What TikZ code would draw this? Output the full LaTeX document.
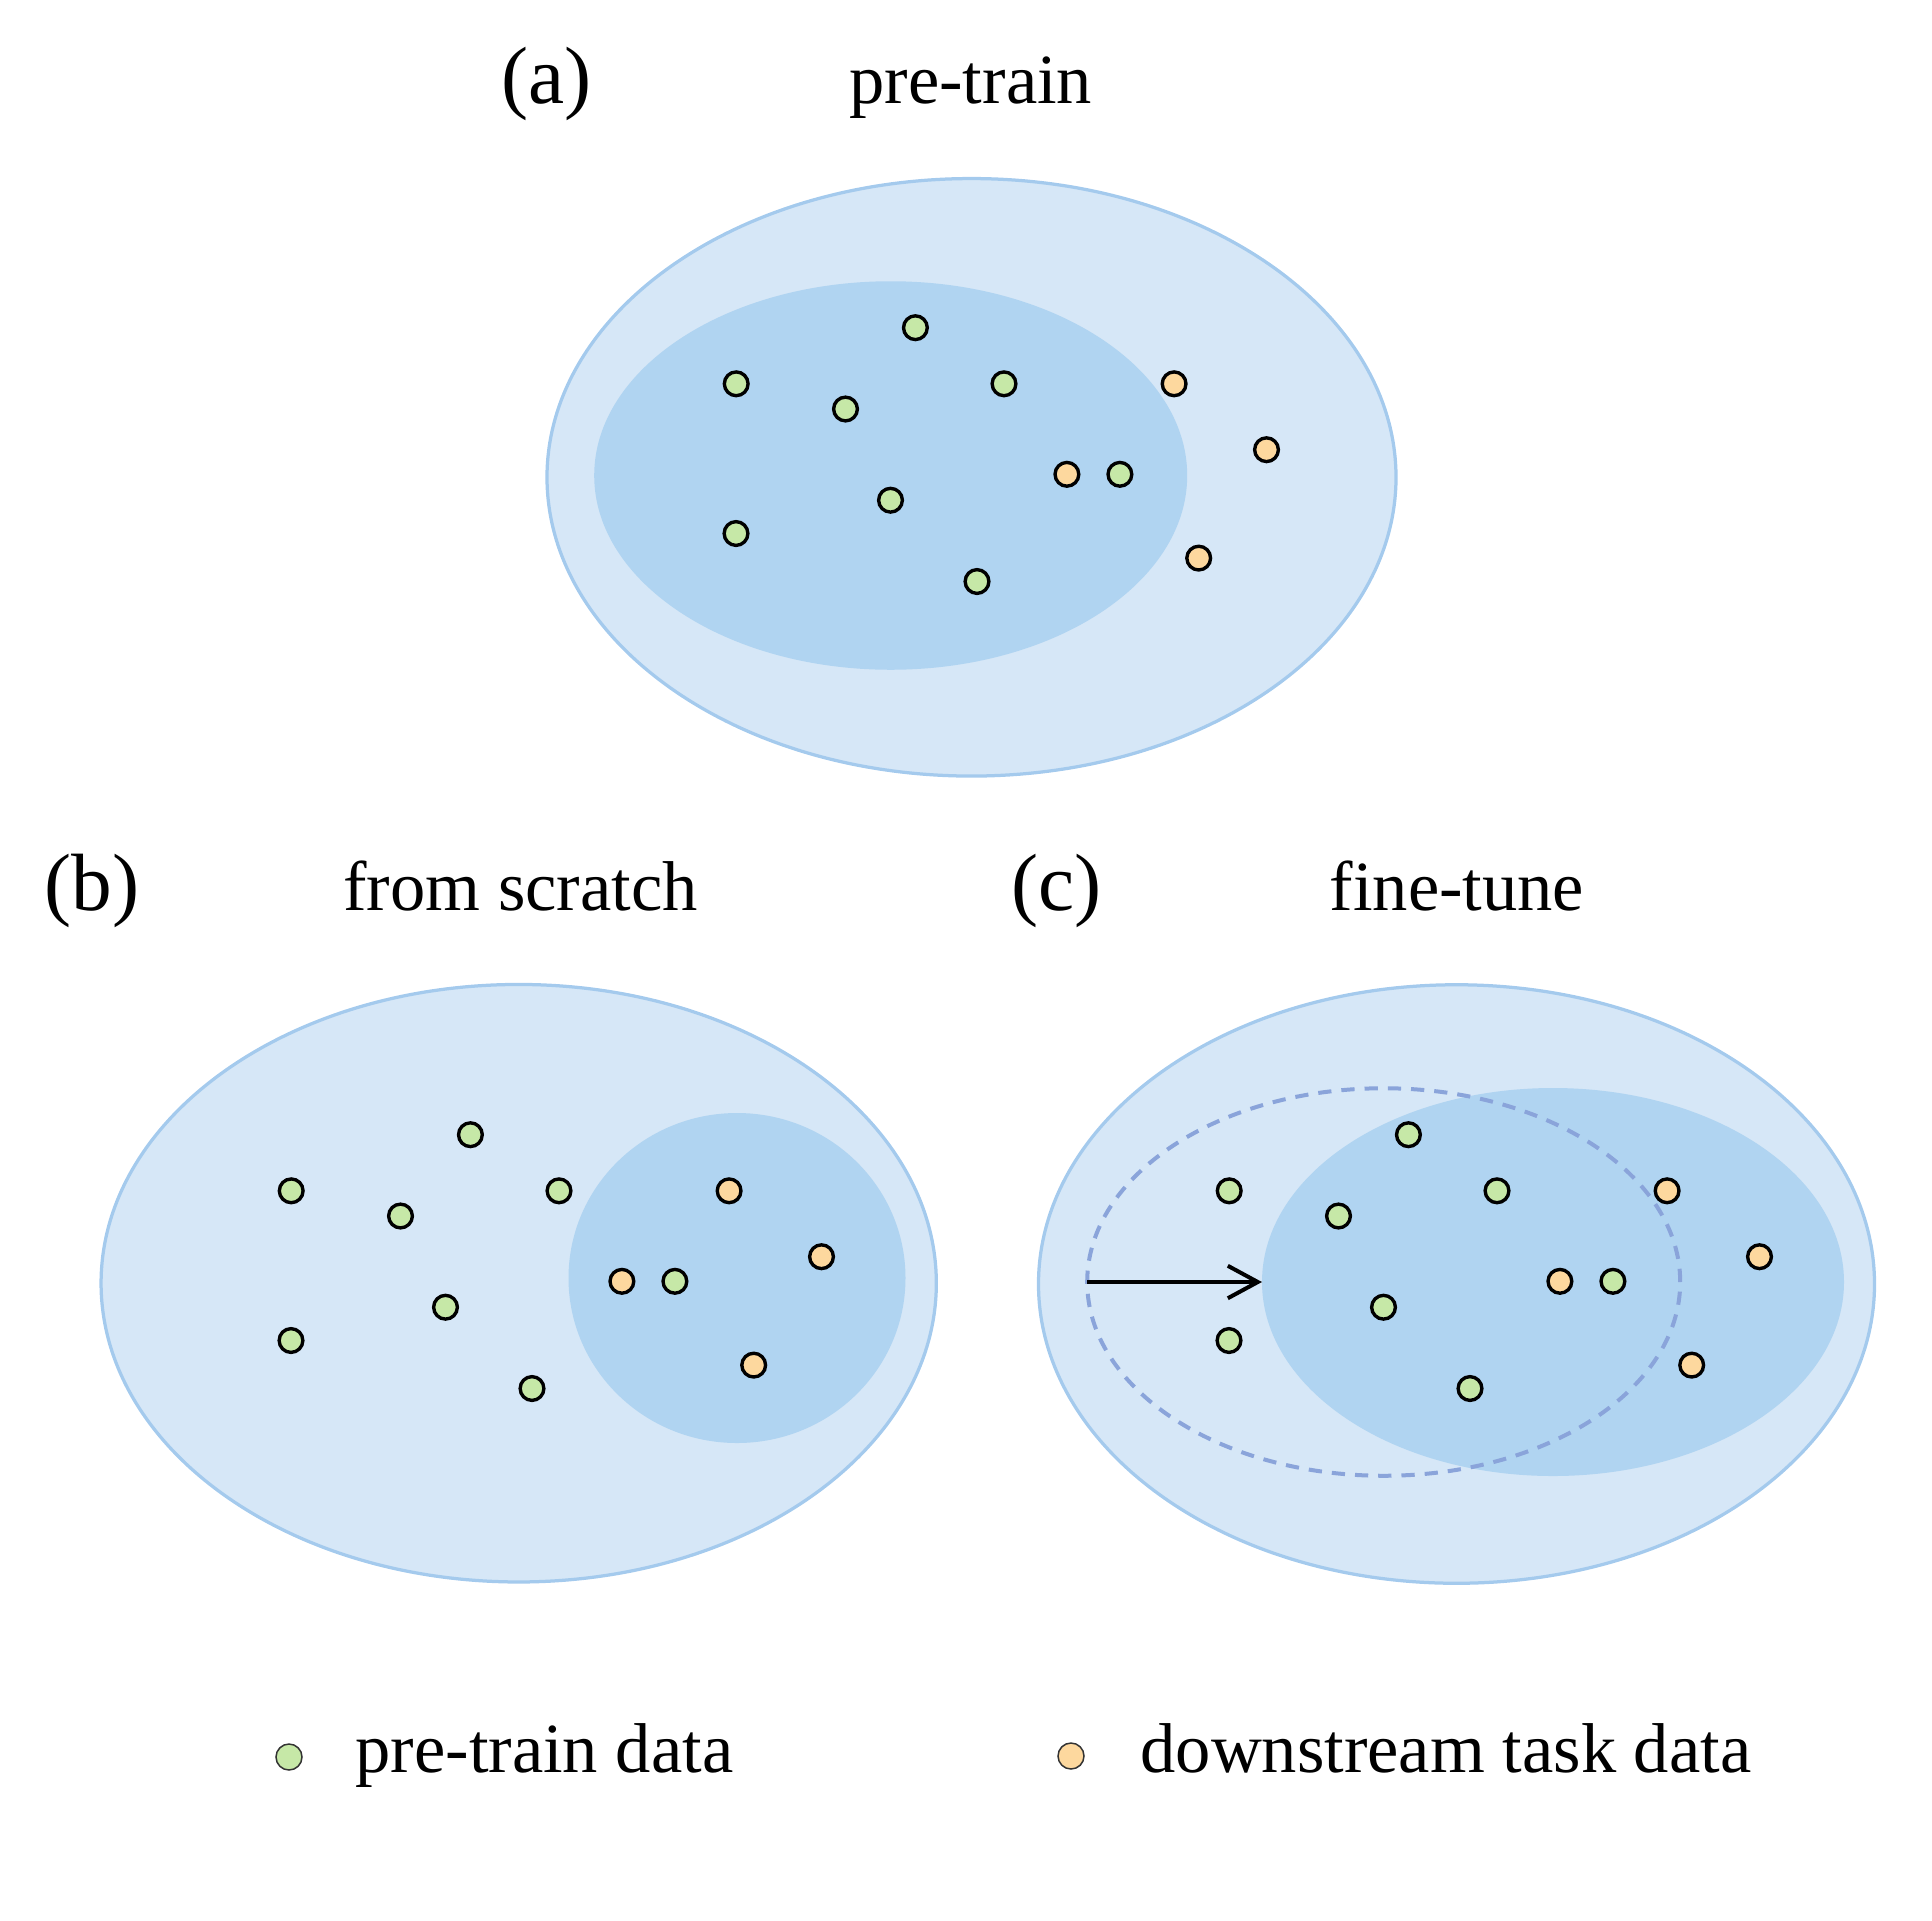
\documentclass[tikz,border=0pt]{standalone}
\usepackage{fontspec}
\setmainfont{Liberation Serif}
\usetikzlibrary{shapes.geometric,arrows.meta}
\definecolor{outerfill}{RGB}{214,231,247}
\definecolor{outerline}{RGB}{164,202,237}
\definecolor{innerfill}{RGB}{176,212,241}
\definecolor{dashcol}{RGB}{138,164,218}
\definecolor{greenfill}{RGB}{198,232,167}
\definecolor{orangefill}{RGB}{253,216,158}
\tikzset{
  region/.style={ellipse, draw=outerline, fill=outerfill, line width=1.3pt, inner sep=0pt, outer sep=0pt},
  core/.style={ellipse, fill=innerfill, draw=none, inner sep=0pt, outer sep=0pt},
  ghost/.style={ellipse, draw=dashcol, dash pattern=on 5.3pt off 4pt, line width=1.6pt, inner sep=0pt, outer sep=0pt},
  pdot/.style={circle, draw=black, line width=1.35pt, fill=greenfill, minimum size=9.5pt, inner sep=0pt},
  ddot/.style={circle, draw=black, line width=1.35pt, fill=orangefill, minimum size=9.5pt, inner sep=0pt},
  legdot/.style={circle, draw=black!80, line width=0.6pt, minimum size=10.4pt, inner sep=0pt},
  title/.style={font=\fontsize{28.2}{34}\selectfont, anchor=base, inner sep=0pt},
  tag/.style={font=\fontsize{32.5}{38}\selectfont, anchor=base, inner sep=0pt},
  legtext/.style={font=\fontsize{28.2}{34}\selectfont, anchor=base west, inner sep=0pt},
  shiftarrow/.style={line width=1.6pt, -{Straight Barb[length=12pt,width=13pt]}}
}
\newcommand\placedots[1]{%
  \node[pdot] (#1g1) at (915.4,327.7) {};
  \node[pdot] (#1g2) at (736.2,383.8) {};
  \node[pdot] (#1g3) at (845.5,409) {};
  \node[pdot] (#1g4) at (1004,383.8) {};
  \node[pdot] (#1g5) at (1119.9,474.3) {};
  \node[pdot] (#1g6) at (890.5,500.2) {};
  \node[pdot] (#1g7) at (736,533.5) {};
  \node[pdot] (#1g8) at (977,581.5) {};
  \node[ddot] (#1o1) at (1174.1,383.8) {};
  \node[ddot] (#1o2) at (1266.5,449.7) {};
  \node[ddot] (#1o3) at (1066.9,474.3) {};
  \node[ddot] (#1o4) at (1198.7,558.1) {};
}
\begin{document}
\begin{tikzpicture}[x=0.4pt,y=-0.4pt]
\useasboundingbox (0,0) rectangle (1932,1920);
% titles
\node[tag] (taga) at (546.7,103) {(a)};
\node[title] (titlea) at (970.8,103) {pre-train};
\node[tag] (tagb) at (91.7,910) {(b)};
\node[title] (titleb) at (520.5,910) {from scratch};
\node[tag] (tagc) at (1056.5,910) {(c)};
\node[title] (titlec) at (1457,910) {fine-tune};
% (a)
\node[region, minimum width=339.6pt, minimum height=239pt] (outera) at (971.5,477.3) {};
\node[core, minimum width=237.2pt, minimum height=155.4pt] (corea) at (890.7,475.5) {};
\placedots{a}
% (b)
\node[region, minimum width=334.1pt, minimum height=239pt] (outerb) at (518.7,1283.2) {};
\node[core, minimum width=134.8pt, minimum height=132pt] (coreb) at (737,1278) {};
\begin{scope}[shift={(-445,807)}]
\placedots{b}
\end{scope}
% (c)
\node[region, minimum width=334.4pt, minimum height=239.4pt] (outerc) at (1456.5,1284) {};
\node[core, minimum width=232.8pt, minimum height=155.2pt] (corec) at (1553,1282) {};
\node[ghost, minimum width=237.2pt, minimum height=155pt] (ghostc) at (1383.7,1282) {};
\draw[shiftarrow] (ghostc.west) -- (corec.west);
\begin{scope}[shift={(493,807)}]
\placedots{c}
\end{scope}
% legend
\node[legdot, fill=greenfill] (leggreen) at (289,1757) {};
\node[legtext] (legpre) at (355,1772) {pre-train data};
\node[legdot, fill=orangefill] (legorange) at (1071,1756) {};
\node[legtext] (legdown) at (1140,1772) {downstream task data};
\end{tikzpicture}
\end{document}
